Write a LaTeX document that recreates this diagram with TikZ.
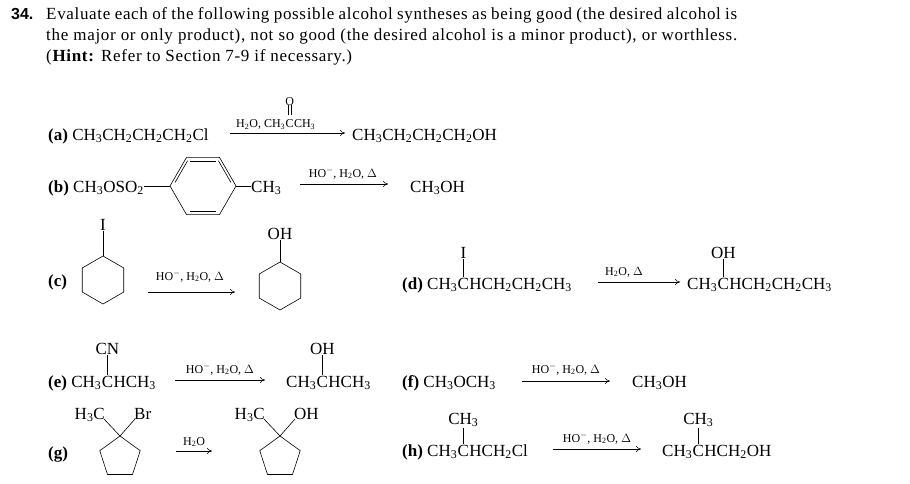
\documentclass[tikz,border=0pt]{standalone}
\usepackage{fontspec}
\usetikzlibrary{calc,arrows.meta}
\setmainfont{Liberation Serif}
\newfontfamily\hd{Liberation Sans}
\newfontfamily\spaced[LetterSpace=4]{Liberation Serif}
\newcommand{\sbs}[1]{\textsubscript{#1}}
\begin{document}
\begin{tikzpicture}[x=1pt,y=-1pt,
  txt/.style={inner sep=0pt,anchor=base west,font=\spaced\fontsize{17}{19}\selectfont},
  chem/.style={inner sep=0pt,anchor=base west,font=\fontsize{17}{18}\selectfont},
  cond/.style={inner sep=0pt,anchor=base,font=\fontsize{12}{14}\selectfont},
  rxn/.style={-{To[length=5pt,width=6pt]},line width=0.6pt},
  bnd/.style={line width=0.6pt}]
\useasboundingbox (0,0) rectangle (910,484);
% title
\node[txt,font=\hd\bfseries\fontsize{16}{18}\selectfont] (n34) at (11,20) {34.};
\node[txt] (t1) at (46,20) {\makebox[691pt][s]{Evaluate each of the following possible alcohol syntheses as being good (the desired alcohol is}};
\node[txt] (t2) at (46,41) {\makebox[691pt][s]{the major or only product), not so good (the desired alcohol is a minor product), or worthless.}};
\node[txt] (t3) at (46,62) {(\textbf{Hint:} Refer to Section 7-9 if necessary.)};
% (a)
\node[chem] (a1) at (48,140) {\textbf{(a)} CH\sbs3CH\sbs2CH\sbs2CH\sbs2Cl};
\coordinate (aL) at (230,133); \coordinate (aR) at (345,133);
\draw[rxn] (aL) -- (aR);
\node[cond,anchor=base west] (ac1) at (236,128) {H\sbs2O, CH\sbs3};
\node[cond,anchor=base west] (ac2) at (ac1.base east) {C};
\node[cond,anchor=base west] (ac3) at (ac2.base east) {CH\sbs3};
\node[cond,anchor=base] (aO) at ([yshift=22pt]ac2.base) {O};
\draw[bnd] ([xshift=-1.2pt,yshift=1pt]aO.south) -- ([xshift=-1.2pt,yshift=-9pt]aO.south);
\draw[bnd] ([xshift=1.2pt,yshift=1pt]aO.south) -- ([xshift=1.2pt,yshift=-9pt]aO.south);
\node[chem] (a2) at (352,140) {CH\sbs3CH\sbs2CH\sbs2CH\sbs2OH};
% (b)
\node[chem] (b1) at (48,192) {\textbf{(b)} CH\sbs3OSO\sbs2};
\coordinate (bz) at (203,186);
\draw[bnd] (bz) ++(180:33) coordinate (v1) -- ++(-60:33) coordinate (v2) -- ++(0:33) coordinate (v3) -- ++(60:33) coordinate (v4) -- ++(120:33) coordinate (v5) -- ++(180:33) coordinate (v6) -- cycle;
\draw[bnd] ($(v1)!0.12!(v2)+(3,0)$) -- ($(v1)!0.88!(v2)+(3,0)$);
\draw[bnd] ($(v2)!0.1!(v3)+(0,3.5)$) -- ($(v2)!0.9!(v3)+(0,3.5)$);
\draw[bnd] ($(v3)!0.12!(v4)+(-3,0)$) -- ($(v3)!0.88!(v4)+(-3,0)$);
\draw[bnd] ($(v5)!0.1!(v6)+(0,-3.5)$) -- ($(v5)!0.9!(v6)+(0,-3.5)$);
\draw[bnd] (b1.east|-v1) -- (v1);
\node[chem] (b2) at (251,192) {CH\sbs3};
\draw[bnd] (v4) -- (b2.west|-v4);
\draw[rxn] (300,184) coordinate (bL) -- (388,184) coordinate (bR);
\node[cond] (bc) at (343,177) {HO\textsuperscript{$-$}, H\sbs2O, $\Delta$};
\node[chem] (b3) at (410,192) {CH\sbs3OH};
% (c)
\node[chem] (cl) at (48,286) {\textbf{(c)}};
\coordinate (cz) at (103,280);
\draw[bnd] (cz) ++(-90:24) coordinate (c1) -- ++(30:24) -- ++(90:24) -- ++(150:24) -- ++(-150:24) -- ++(-90:24) -- cycle;
\node[chem,anchor=base] (cI) at (103,230) {I};
\draw[bnd] (c1) -- ([yshift=-1pt]cI.south);
\draw[rxn] (148,292) coordinate (cL) -- (235,292) coordinate (cR);
\node[cond] (cc) at (190,280) {HO\textsuperscript{$-$}, H\sbs2O, $\Delta$};
\coordinate (cz2) at (280,286);
\draw[bnd] (cz2) ++(-90:24) coordinate (c2) -- ++(30:24) -- ++(90:24) -- ++(150:24) -- ++(-150:24) -- ++(-90:24) -- cycle;
\node[chem,anchor=base] (cOH) at (280,239) {OH};
\draw[bnd] (c2) -- ([yshift=-1pt]cOH.south);
% (d)
\node[chem] (d1) at (402,289) {\textbf{(d)} CH\sbs3};
\node[chem] (d2) at (d1.base east) {C};
\node[chem] (d3) at (d2.base east) {HCH\sbs2CH\sbs2CH\sbs3};
\node[chem,anchor=base] (dI) at ([yshift=31pt]d2.base) {I};
\draw[bnd] ([yshift=1pt]d2.north) -- ([yshift=-1pt]dI.south);
\draw[rxn] (598,282) coordinate (dL) -- (680,282) coordinate (dR);
\node[cond] (dc) at (624,275) {H\sbs2O, $\Delta$};
\node[chem] (d4) at (687,289) {CH\sbs3};
\node[chem] (d5) at (d4.base east) {C};
\node[chem] (d6) at (d5.base east) {HCH\sbs2CH\sbs2CH\sbs3};
\node[chem,anchor=base] (dOH) at ([yshift=31pt]d5.base) {OH};
\draw[bnd] ([yshift=1pt]d5.north) -- ([yshift=-1pt]dOH.south);
% (e)
\node[chem] (e1) at (48,387) {\textbf{(e)} CH\sbs3};
\node[chem] (e2) at (e1.base east) {C};
\node[chem] (e3) at (e2.base east) {HCH\sbs3};
\node[chem,anchor=base] (eCN) at ([yshift=33pt]e2.base) {CN};
\draw[bnd] ([yshift=1pt]e2.north) -- ([yshift=-1pt]eCN.south);
\draw[rxn] (175,380) coordinate (eL) -- (265,380) coordinate (eR);
\node[cond] (ec) at (220,373) {HO\textsuperscript{$-$}, H\sbs2O, $\Delta$};
\node[chem] (e4) at (286,387) {CH\sbs3};
\node[chem] (e5) at (e4.base east) {C};
\node[chem] (e6) at (e5.base east) {HCH\sbs3};
\node[chem,anchor=base] (eOH) at ([yshift=33pt]e5.base) {OH};
\draw[bnd] ([yshift=1pt]e5.north) -- ([yshift=-1pt]eOH.south);
% (f)
\node[chem] (f1) at (402,387) {\textbf{(f)} CH\sbs3OCH\sbs3};
\draw[rxn] (522,381) coordinate (fL) -- (610,381) coordinate (fR);
\node[cond] (fc) at (566,373) {HO\textsuperscript{$-$}, H\sbs2O, $\Delta$};
\node[chem] (f2) at (632,387) {CH\sbs3OH};
% (g)
\node[chem] (gl) at (48,458) {\textbf{(g)}};
\coordinate (g1) at (120,436);
\draw[bnd] (g1) -- ++(36:25) -- ++(108:25) -- ++(180:25) -- ++(-108:25) -- cycle;
\node[chem,anchor=base east] (gA) at (105,419) {H\sbs3C};
\node[chem,anchor=base west] (gB) at (134,419) {Br};
\draw[bnd] (g1) -- (104,419);
\draw[bnd] (g1) -- (135,419);
\draw[rxn] (176,451) coordinate (gL) -- (212,451) coordinate (gR);
\node[cond] (gc) at (194,445) {H\sbs2O};
\coordinate (g2) at (280,436);
\draw[bnd] (g2) -- ++(36:25) -- ++(108:25) -- ++(180:25) -- ++(-108:25) -- cycle;
\node[chem,anchor=base east] (gC) at (265,419) {H\sbs3C};
\node[chem,anchor=base west] (gD) at (294,419) {OH};
\draw[bnd] (g2) -- (264,419);
\draw[bnd] (g2) -- (295,419);
% (h)
\node[chem] (h1) at (402,456) {\textbf{(h)} CH\sbs3};
\node[chem] (h2) at (h1.base east) {C};
\node[chem] (h3) at (h2.base east) {HCH\sbs2Cl};
\node[chem,anchor=base] (hM) at ([yshift=32pt]h2.base) {CH\sbs3};
\draw[bnd] ([yshift=1pt]h2.north) -- ([yshift=-1pt]hM.south);
\draw[rxn] (553,449) coordinate (hL) -- (641,449) coordinate (hR);
\node[cond] (hc) at (597,442) {HO\textsuperscript{$-$}, H\sbs2O, $\Delta$};
\node[chem] (h4) at (662,456) {CH\sbs3};
\node[chem] (h5) at (h4.base east) {C};
\node[chem] (h6) at (h5.base east) {HCH\sbs2OH};
\node[chem,anchor=base] (hN) at ([yshift=32pt]h5.base) {CH\sbs3};
\draw[bnd] ([yshift=1pt]h5.north) -- ([yshift=-1pt]hN.south);
\end{tikzpicture}
\end{document}
